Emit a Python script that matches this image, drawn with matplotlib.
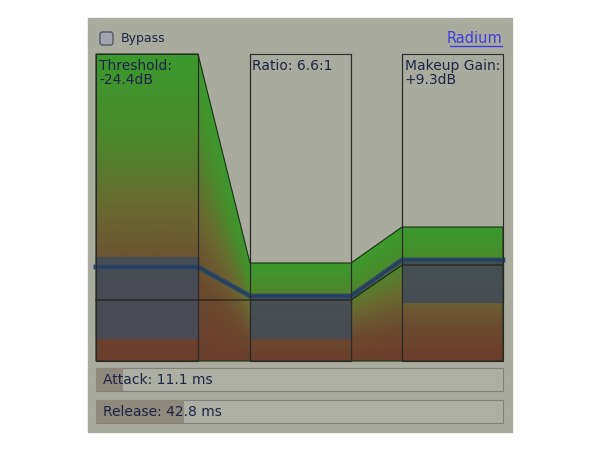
import numpy as np
import matplotlib.pyplot as plt
from matplotlib.patches import Rectangle, Polygon, FancyBboxPatch
from matplotlib.colors import LinearSegmentedColormap

# pixel layout of the compressor widget (y grows downward)
col_edges = [96, 198, 250, 351, 402, 503]
graph_top, graph_bottom = 54, 361
green_top = [54, 54, 263, 263, 227, 227]      # curve top at each edge
blue_line = [267, 267, 296, 296, 260, 260]    # thick gain line
thin_line = [300, 300, 300, 300, 265, 265]
band_cols = [(96, 198, 257, 338), (250, 351, 296, 338), (402, 503, 260, 302)]
labels = ["Threshold:\n-24.4dB", "Ratio: 6.6:1", "Makeup Gain:\n+9.3dB"]
label_x = [99, 252, 405]
sliders = [("Attack: 11.1 ms", 368, 123), ("Release: 42.8 ms", 400, 184)]

BG = "#aaab9f"
INK = "#1e2545"

fig = plt.figure(figsize=(6, 4.5), dpi=100)
ax = fig.add_axes([0, 0, 1, 1])
ax.set_xlim(0, 600)
ax.set_ylim(450, 0)
ax.axis("off")

ax.add_patch(Rectangle((88, 18), 424, 414, color=BG, zorder=0))

# gradient fill under the curve
xs = np.arange(col_edges[0], col_edges[-1] + 1)
ys = np.arange(graph_top, graph_bottom + 1)
top = np.interp(xs, col_edges, green_top)
frac = (ys[:, None] - top[None, :]) / (graph_bottom - top[None, :])
frac = np.clip(frac, 0, 1)
cmap = LinearSegmentedColormap.from_list(
    "g", ["#3b9a2e", "#4a8a2c", "#6a6a30", "#6a4a30", "#6c3e2e"])
im = ax.imshow(frac, cmap=cmap, vmin=0, vmax=1, aspect="auto",
               extent=[xs[0], xs[-1], graph_bottom, graph_top], zorder=1)
poly = Polygon(list(zip(col_edges, green_top)) +
               [(col_edges[-1], graph_bottom), (col_edges[0], graph_bottom)],
               closed=True, facecolor="none", edgecolor="#1a3010", lw=0.8, zorder=3)
ax.add_patch(poly)
im.set_clip_path(poly)

for x0, x1, y0, y1 in band_cols:
    ax.add_patch(Rectangle((x0, y0), x1 - x0, y1 - y0, color="#454c57", alpha=0.92, zorder=2))

ax.plot(col_edges, thin_line, color="#2a2520", lw=1, zorder=4)
ax.plot(col_edges, blue_line, color="#2a4868", lw=3.5, zorder=4)
ax.plot(col_edges, blue_line, color="#2c3340", lw=1.2, alpha=0.5, zorder=4)

# column frames
for i in range(0, 5, 2):
    ax.add_patch(Rectangle((col_edges[i], graph_top), col_edges[i + 1] - col_edges[i],
                           graph_bottom - graph_top, fill=False, ec="#2a2a2a", lw=0.8, zorder=5))
for x in col_edges[1:-1]:
    ax.plot([x, x], [graph_top, graph_bottom], color="#2a2a2a", lw=0.8, zorder=5)

for lab, lx in zip(labels, label_x):
    ax.text(lx, 59, lab, fontsize=10, color=INK, va="top", ha="left",
            linespacing=1.0, zorder=6)

# bypass checkbox and link
ax.add_patch(FancyBboxPatch((100, 32), 13, 13, boxstyle="round,pad=0,rounding_size=2.5",
                            fc="#a3a4ad", ec="#55586a", lw=1, zorder=6))
ax.text(121, 38.5, "Bypass", fontsize=9, color=INK, va="center", zorder=6)
ax.text(502, 38.5, "Radium", fontsize=10.5, color="#3d3de0", va="center", ha="right",
        zorder=6)
ax.plot([450, 502], [46, 46], color="#3d3de0", lw=1, zorder=6)

for text, y0, fill_to in sliders:
    ax.add_patch(Rectangle((96, y0), 407, 23, fc="#aeafa4", ec="#808078", lw=0.8, zorder=2))
    ax.add_patch(Rectangle((96, y0), fill_to - 96, 23, fc="#8f887d", ec="none", zorder=3))
    ax.text(103, y0 + 12, text, fontsize=10, color=INK, va="center", zorder=6)

fig.savefig("out.png", dpi=100)
